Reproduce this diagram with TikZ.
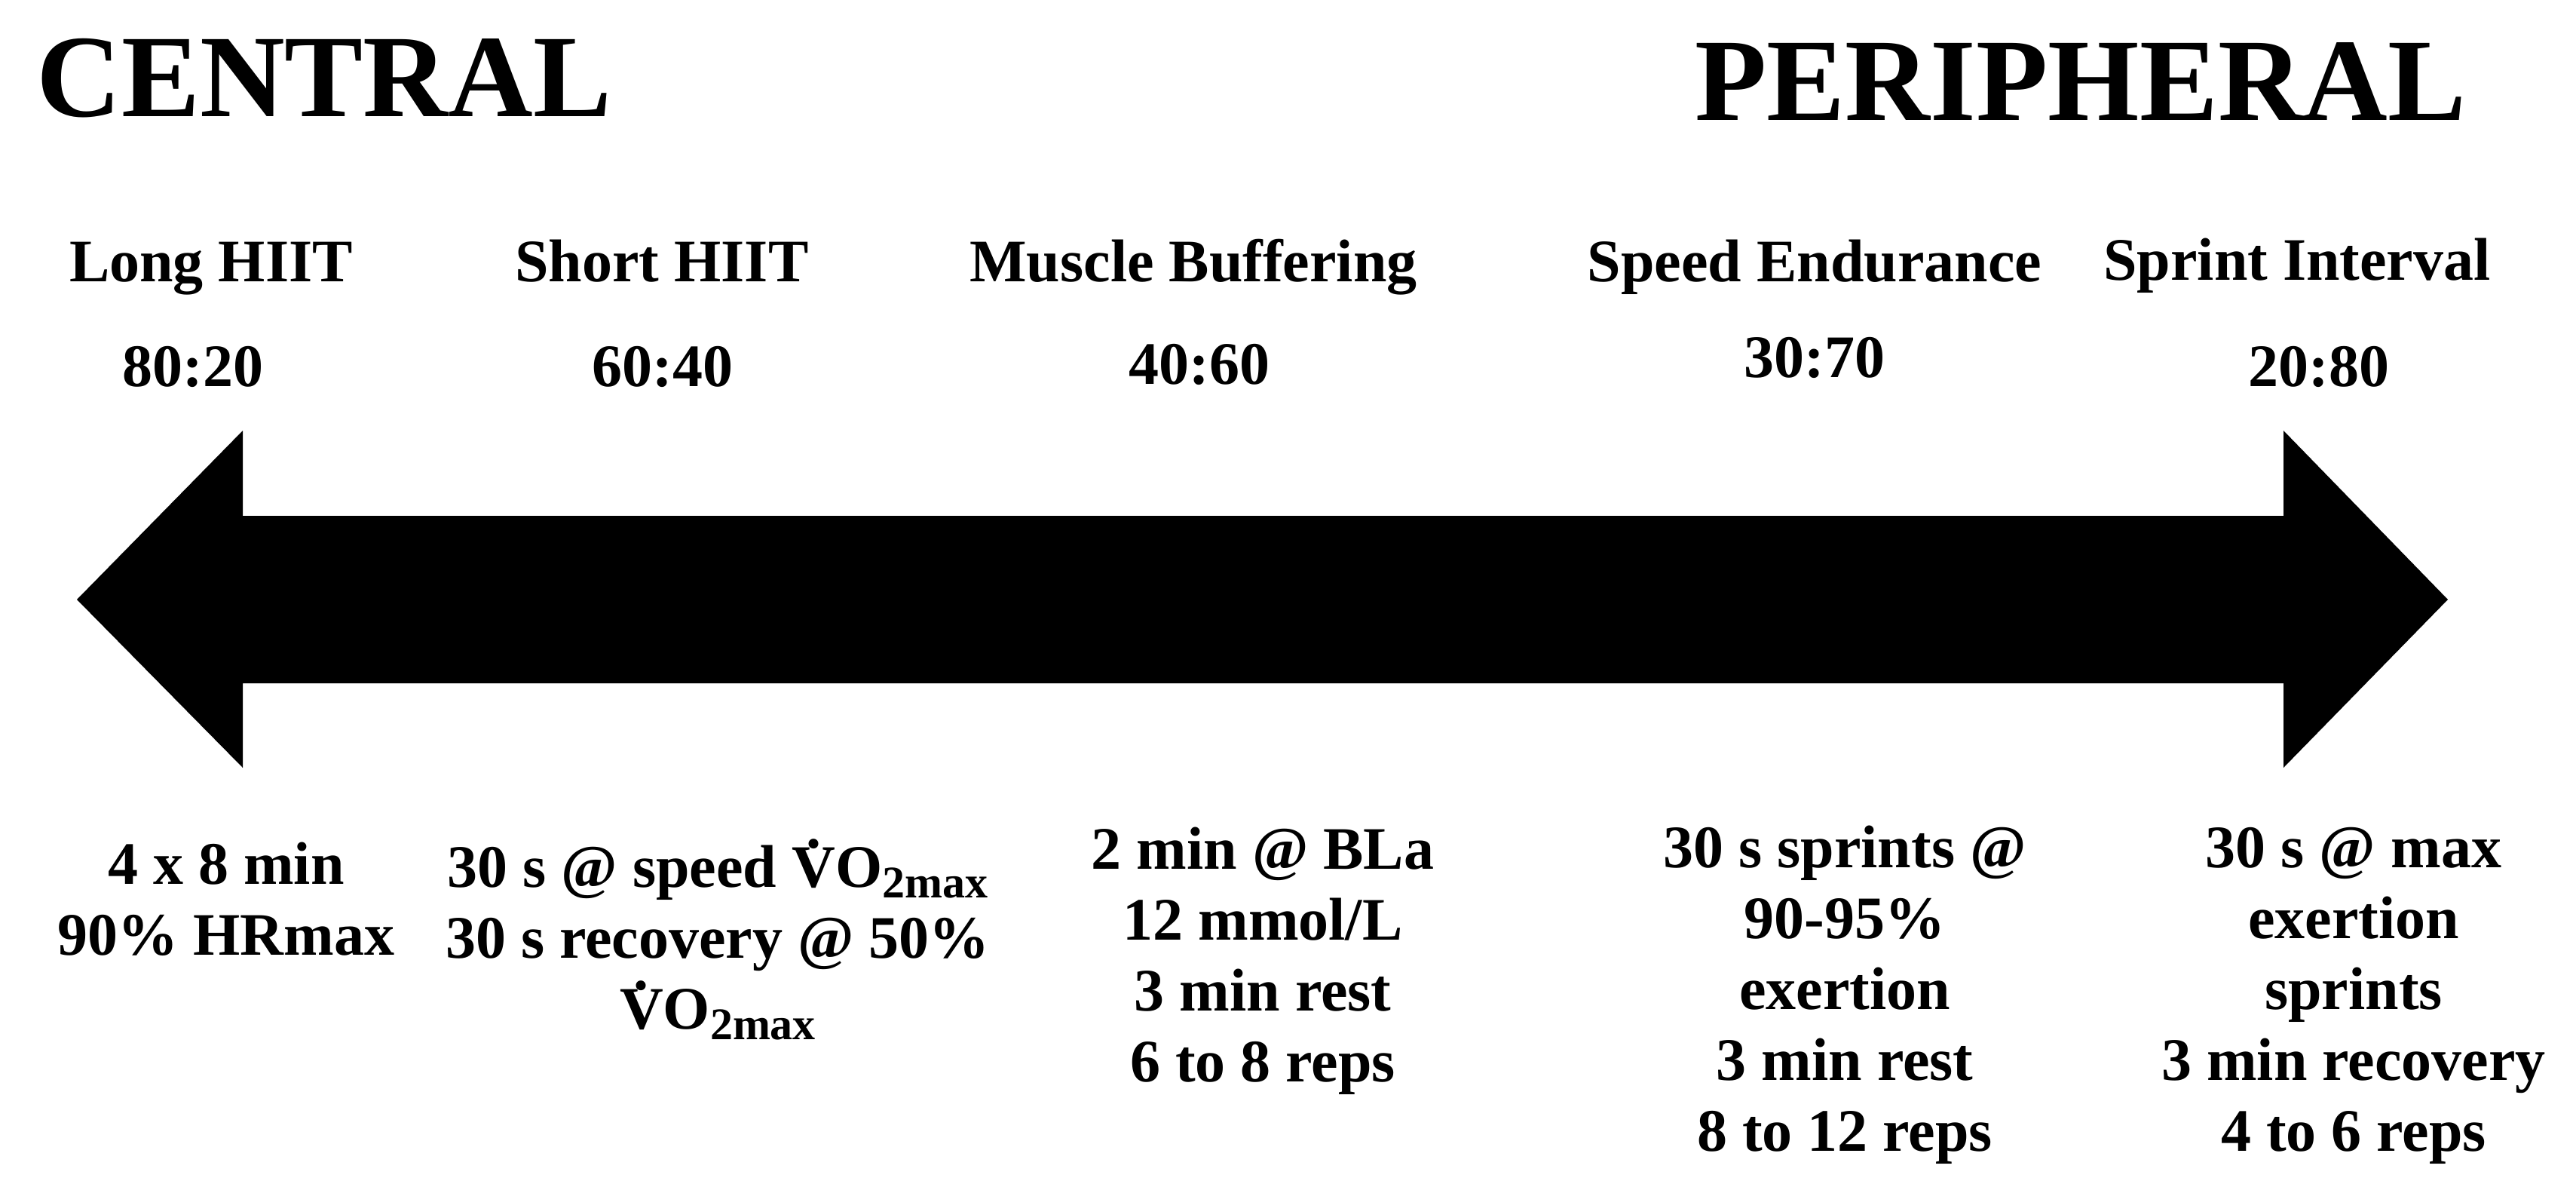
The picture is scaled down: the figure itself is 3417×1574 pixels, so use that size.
\documentclass[tikz,border=0pt]{standalone}
\usepackage{fontspec}
\setmainfont{Liberation Serif}
\newcommand\vdotV{\ooalign{V\cr\hidewidth\raisebox{0.64em}{.}\hidewidth\cr}}
\newcommand\vomx{\vdotV O\raisebox{-0.4ex}{\fontsize{12}{12}\selectfont 2max}}
\tikzset{
  lbl/.style={font=\fontsize{16}{18.8}\selectfont\bfseries, inner sep=0pt, anchor=base},
  blk/.style={lbl, align=center},
  ttl/.style={font=\fontsize{31.2}{36}\selectfont\bfseries, inner sep=0pt, anchor=base},
  bigarrow/.style={fill=black, draw=none}
}
\begin{document}
\begin{tikzpicture}[x=0.2pt,y=-0.2pt]
\useasboundingbox (0,0) rectangle (3417,1574);
% titles
\node[ttl] (central) at (430,154) {CENTRAL};
\node[ttl] (peripheral) at (2760,159) {PERIPHERAL};
% headings
\node[lbl] (h1) at (280,373) {Long HIIT};
\node[lbl] (h2) at (878,373) {Short HIIT};
\node[lbl] (h3) at (1583,373) {Muscle Buffering};
\node[lbl] (h4) at (2407,373) {Speed Endurance};
\node[lbl] (h5) at (3047,371) {Sprint Interval};
% ratios
\node[lbl] (r1) at (256,512) {80:20};
\node[lbl] (r2) at (879,512) {60:40};
\node[lbl] (r3) at (1591,509) {40:60};
\node[lbl] (r4) at (2407,500) {30:70};
\node[lbl] (r5) at (3076,512) {20:80};
% double arrow
\coordinate (lt) at (102,795);
\coordinate (rt) at (3247,795);
\fill[bigarrow] (lt) -- (322,571) -- (322,684) -- (3029,684) -- (3029,571) -- (rt)
  -- (3029,1018) -- (3029,906) -- (322,906) -- (322,1018) -- cycle;
% bottom blocks (anchored at the baseline of their last line)
\node[blk] (b1) at (300,1266) {4 x 8 min\\90\% HRmax};
\node[blk] (b2) at (952,1364) {30 s @ speed \vomx\\30 s recovery @ 50\%\\\vomx};
\node[blk] (b3) at (1675,1434) {2 min @ BLa\\12 mmol/L\\3 min rest\\6 to 8 reps};
\node[blk] (b4) at (2447,1526) {30 s sprints @\\90-95\%\\exertion\\3 min rest\\8 to 12 reps};
\node[blk] (b5) at (3122,1526) {30 s @ max\\exertion\\sprints\\3 min recovery\\4 to 6 reps};
\end{tikzpicture}
\end{document}
